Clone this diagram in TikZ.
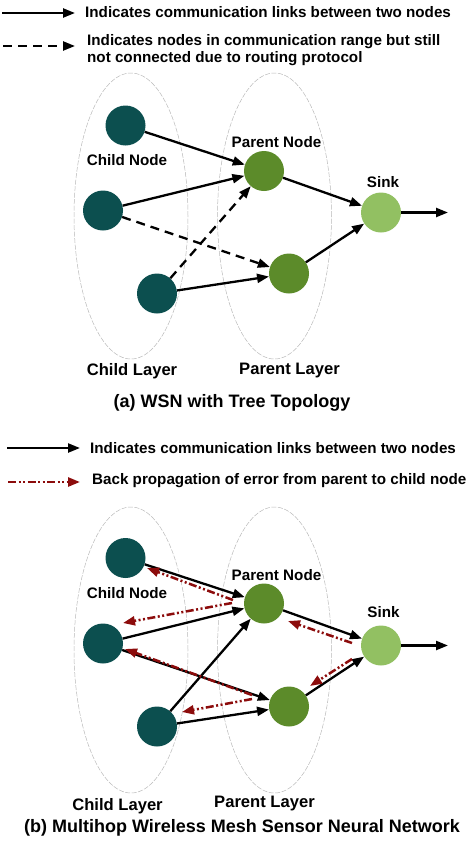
\documentclass[tikz,border=0pt]{standalone}
\usepackage{fontspec}
\setmainfont{Liberation Sans}
\usetikzlibrary{arrows.meta}
\definecolor{childcol}{RGB}{12,79,79}
\definecolor{parentcol}{RGB}{92,139,42}
\definecolor{sinkcol}{RGB}{146,192,98}
\definecolor{backcol}{RGB}{140,12,12}
\begin{document}
\begin{tikzpicture}[x=1pt, y=-1pt, >={Triangle[length=12pt, width=9pt]},
        chnode/.style={circle, fill=childcol, minimum size=40pt, inner sep=0pt},
        parnode/.style={circle, fill=parentcol, minimum size=40pt, inner sep=0pt},
        sinknode/.style={circle, fill=sinkcol, minimum size=40pt, inner sep=0pt},
        layerell/.style={draw=gray!55, line width=0.5pt, dash pattern=on 5pt off 1.5pt},
        link/.style={->, line width=2.3pt},
        nolink/.style={->, line width=2.3pt, dash pattern=on 9pt off 6pt},
        backprop/.style={->, line width=2.5pt, color=backcol, dash pattern=on 8pt off 2.5pt on 2pt off 2.5pt on 2pt off 2.5pt},
        lbl/.style={inner sep=0pt, font=\fontsize{15.2}{17}\selectfont\bfseries},
        laylbl/.style={inner sep=0pt, font=\fontsize{16.6}{19}\selectfont\bfseries},
        ttl/.style={inner sep=0pt, font=\fontsize{18}{21}\selectfont\bfseries}]
                \useasboundingbox ( 0, 0 ) rectangle ( 474, 841 );

% (a) легенда
                \coordinate (la1) at ( 2, 13 );
                \coordinate (lb1) at ( 75, 13 );
                \coordinate (la2) at ( 3, 46 );
                \coordinate (lb2) at ( 75, 46 );
                \draw [link] (la1) -- (lb1);
                \draw [nolink] (la2) -- (lb2);
                \node [lbl, anchor=west] (ta1) at ( 85, 12 ) {Indicates communication links between two nodes};
                \node [lbl, anchor=west, align=left] (ta2) at ( 87, 50.5 ) {Indicates nodes in communication range but still\\not connected due to routing protocol};

% (a) слои
                \draw [layerell] ( 131, 216 ) ellipse [x radius=57pt, y radius=143pt];
                \draw [layerell] ( 274.5, 216 ) ellipse [x radius=57pt, y radius=143pt];

% (a) узлы
                \node [chnode] (ac1) at ( 125.5, 125.5 ) {};
                \node [chnode] (ac2) at ( 103, 210.5 ) {};
                \node [chnode] (ac3) at ( 157, 293.5 ) {};
                \node [parnode] (ap1) at ( 264, 171 ) {};
                \node [parnode] (ap2) at ( 289, 273.5 ) {};
                \node [sinknode] (ask) at ( 381, 212.5 ) {};
                \coordinate (aout) at ( 448, 212.5 );

% (a) связи
                \draw [link] (ac1) -- (ap1);
                \draw [link] (ac2) -- (ap1);
                \draw [link] (ac3) -- (ap2);
                \draw [link] (ap1) -- (ask);
                \draw [link] (ap2) -- (ask);
                \draw [link] (ask) -- (aout);
                \draw [nolink] (ac2) -- (ap2);
                \draw [nolink] (ac3) -- (ap1);

% (a) подписи
                \node [lbl] (anc) at ( 127, 160 ) {Child Node};
                \node [lbl] (anp) at ( 276.5, 142 ) {Parent Node};
                \node [lbl] (ans) at ( 383, 182.5 ) {Sink};
                \node [laylbl] (alc) at ( 132, 371 ) {Child Layer};
                \node [laylbl] (alp) at ( 289.5, 371 ) {Parent Layer};
                \node [ttl] (atl) at ( 232, 403 ) {(a) WSN with Tree Topology};

% (b) легенда
                \coordinate (lc1) at ( 7, 448 );
                \coordinate (ld1) at ( 80, 448 );
                \coordinate (lc2) at ( 8, 482 );
                \coordinate (ld2) at ( 80, 482 );
                \draw [link] (lc1) -- (ld1);
                \draw [backprop] (lc2) -- (ld2);
                \node [lbl, anchor=west] (tb1) at ( 90, 448 ) {Indicates communication links between two nodes};
                \node [lbl, anchor=west] (tb2) at ( 92, 481 ) {Back propagation of error from parent to child node};

% (b) слои
                \draw [layerell] ( 131, 650 ) ellipse [x radius=57pt, y radius=143pt];
                \draw [layerell] ( 274.5, 650 ) ellipse [x radius=57pt, y radius=143pt];

% (b) узлы
                \node [chnode] (bc1) at ( 125.5, 558 ) {};
                \node [chnode] (bc2) at ( 103, 643.5 ) {};
                \node [chnode] (bc3) at ( 157, 726.5 ) {};
                \node [parnode] (bp1) at ( 264, 603.5 ) {};
                \node [parnode] (bp2) at ( 289, 706.5 ) {};
                \node [sinknode] (bsk) at ( 381, 645.5 ) {};
                \coordinate (bout) at ( 448, 645.5 );

% (b) связи
                \draw [link] (bc1) -- (bp1);
                \draw [link] (bc2) -- (bp1);
                \draw [link] (bc2) -- (bp2);
                \draw [link] (bc3) -- (bp1);
                \draw [link] (bc3) -- (bp2);
                \draw [link] (bp1) -- (bsk);
                \draw [link] (bp2) -- (bsk);
                \draw [link] (bsk) -- (bout);

% (b) обратное распространение ошибки
                \coordinate (e1) at ( 233, 600 );
                \coordinate (e2) at ( 232, 603 );
                \coordinate (e3) at ( 252, 695 );
                \coordinate (e4) at ( 252, 699 );
                \coordinate (e5) at ( 352, 643 );
                \coordinate (e6) at ( 352, 659 );
                \coordinate (f1) at ( 147, 568 );
                \coordinate (f2) at ( 123, 623 );
                \coordinate (f3) at ( 125, 649 );
                \coordinate (f4) at ( 182, 712 );
                \coordinate (f5) at ( 288, 621 );
                \coordinate (f6) at ( 310, 686 );
                \draw [backprop] (e1) -- (f1);
                \draw [backprop] (e2) -- (f2);
                \draw [backprop] (e3) -- (f3);
                \draw [backprop] (e4) -- (f4);
                \draw [backprop] (e5) -- (f5);
                \draw [backprop] (e6) -- (f6);

% (b) подписи
                \node [lbl] (bnc) at ( 127, 593 ) {Child Node};
                \node [lbl] (bnp) at ( 276.5, 575 ) {Parent Node};
                \node [lbl] (bns) at ( 383.5, 612 ) {Sink};
                \node [laylbl] (blc) at ( 117.5, 806 ) {Child Layer};
                \node [laylbl] (blp) at ( 264.5, 804 ) {Parent Layer};
                \node [ttl] (btl) at ( 242, 828 ) {(b) Multihop Wireless Mesh Sensor Neural Network};
\end{tikzpicture}
\end{document}
